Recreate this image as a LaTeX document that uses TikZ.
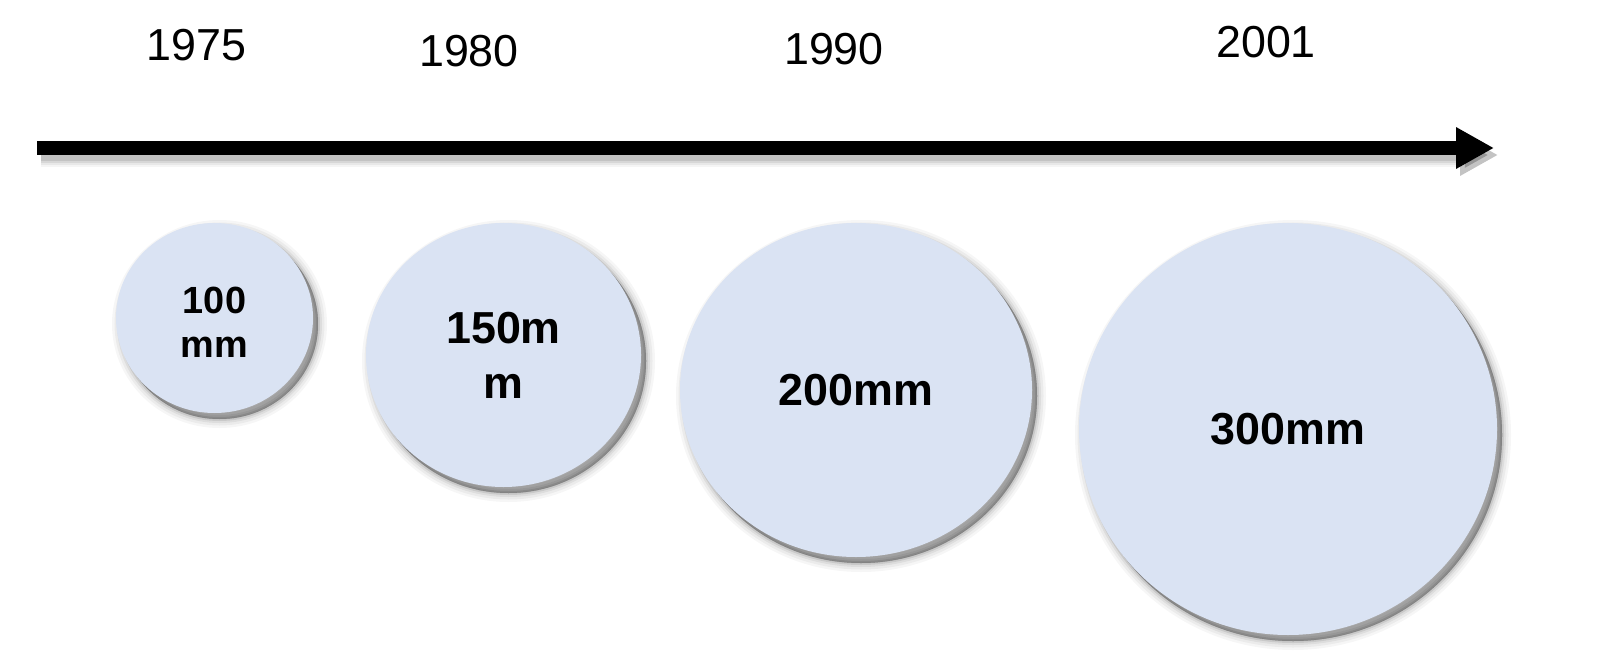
\documentclass[tikz,border=0pt]{standalone}
\usepackage{fontspec}
\setmainfont{Liberation Sans}
\usetikzlibrary{shapes.geometric,arrows.meta,shadows}
\definecolor{waferfill}{RGB}{218,227,243}
\begin{document}
\begin{tikzpicture}[x=1bp,y=-1bp,
  softshade/.style={shadow xshift=5bp, shadow yshift=-6bp, fill=black, draw=black, opacity=#1},
  wafer/.style={ellipse, fill=waferfill, inner sep=0pt, align=center,
    general shadow={softshade=0.035, line width=18bp},
    general shadow={softshade=0.045, line width=13bp},
    general shadow={softshade=0.06, line width=8bp},
    general shadow={softshade=0.09, line width=4bp},
    general shadow={softshade=0.12, line width=0.5bp}},
  bigtext/.style={font=\bfseries\fontsize{45}{55}\selectfont},
  smalltext/.style={font=\bfseries\fontsize{38}{45}\selectfont},
  year/.style={font=\fontsize{45}{54}\selectfont, inner sep=0pt},
  timeline/.style={line width=13bp, -{Triangle[length=38bp,width=39bp]}},
  lineshade/.style={timeline, draw=black, opacity=#1, transform canvas={shift={(4bp,-7bp)}}}
]
\useasboundingbox (0,0) rectangle (1607,672);
\fill[white] (0,0) rectangle (1607,672);

% time line
\coordinate (as) at (37,148);
\coordinate (ae) at (1494,148);
\draw[lineshade=0.04, line width=24bp] (as) -- (ae);
\draw[lineshade=0.05, line width=20bp] (as) -- (ae);
\draw[lineshade=0.07, line width=16bp] (as) -- (ae);
\draw[lineshade=0.09, line width=12bp] (as) -- (ae);
\draw[timeline] (as) -- (ae);

% wafers
\node[wafer, smalltext, minimum width=197bp, minimum height=190bp] (w100) at (214.5,318) {\rule{0pt}{35bp}100\\mm};
\node[wafer, bigtext, minimum width=275bp, minimum height=264bp] (w150) at (503.5,355) {150m\\m};
\node[wafer, bigtext, minimum width=352bp, minimum height=334bp] (w200) at (856,390) {200mm};
\node[wafer, bigtext, minimum width=418bp, minimum height=412bp] (w300) at (1288,429) {300mm};

% years
\node[year] (y1975) at (196.5,45) {1975};
\node[year] (y1980) at (469,51) {1980};
\node[year] (y1990) at (834,49) {1990};
\node[year] (y2001) at (1266,42) {2001};
\end{tikzpicture}
\end{document}
